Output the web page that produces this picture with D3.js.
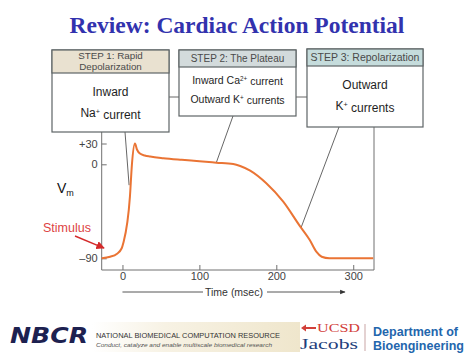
<html>
<head>
<script src="https://d3js.org/d3.v7.min.js"></script>
<style>
    body { margin: 0; background: #fff; }
    text { font-family: "Liberation Sans", Arial, sans-serif; }
    .frame { stroke: #707070; stroke-width: 1; fill: none; }
    .box { fill: #fff; stroke: #5e6466; stroke-width: 1.2; }
    .pointer { stroke: #555; stroke-width: 0.9; }
    .axis text { font-size: 11px; fill: #444; }
    .axis line { stroke: #707070; }
</style>
</head>
<body>
<svg id="chart" width="474" height="355"></svg>
<script>
// action potential trace: time (ms) and membrane potential (mV)
const times = [-27, -16, -7.5, -1, 1, 9.7, 12.3, 16.2, 19, 22.7, 29, 36, 53, 77, 100, 122, 144, 153, 166, 187, 209, 230.5, 243.5, 252, 259, 269, 290, 326];
const volts = [-90, -88.5, -85.9, -80.4, -75.6, -31, 0, 30, 21, 15.5, 12.7, 11.2, 8.8, 6.4, 4.4, 2.4, 0.4, -1.6, -6.1, -18.2, -35.8, -59, -72.5, -83.7, -88.5, -90, -90, -90];

const xTicks = [0, 100, 200, 300];
const yTicks = [30, 0, -90];
const yTickLabels = ["+30", "0", "\u201390"];

// the three steps: header lines, body lines, and the point on the trace each one points to
const stepHeaders = [["STEP 1: Rapid", "Depolarization"], ["STEP 2: The Plateau"], ["STEP 3: Repolarization"]];
const stepBodies = [
    [["Inward"], ["Na", "+", " current"]],
    [["Inward Ca", "2+", " current"], ["Outward K", "+", " currents"]],
    [["Outward"], ["K", "+", " currents"]]
];
const stepTargets = [[8.6, -20], [122, 2.4], [232, -61]];

const svg = d3.select("#chart");

// title
svg.append("text")
    .attr("x", 237).attr("y", 33)
    .attr("text-anchor", "middle")
    .style("font-family", "'Liberation Serif', 'Times New Roman', serif")
    .style("font-weight", "bold")
    .style("font-size", "23.5px")
    .style("fill", "#3232ae")
    .text("Review: Cardiac Action Potential");

// scales (the original figure is not drawn to a single vertical scale)
const x = d3.scaleLinear().domain([-27, 327]).range([101.7, 374]);
const y = d3.scaleLinear().domain([-90, 0, 30]).range([258.3, 164.3, 143.5]);
const axisY = 270;

// frame lines
svg.append("line").attr("class", "frame")
    .attr("x1", x(-27)).attr("x2", x(-27)).attr("y1", 132).attr("y2", axisY);
svg.append("line").attr("class", "frame")
    .attr("x1", x(327)).attr("x2", x(327)).attr("y1", 127).attr("y2", axisY);
svg.append("line").attr("class", "frame")
    .attr("x1", x(-27)).attr("x2", x(327)).attr("y1", axisY).attr("y2", axisY);

// axes
const xAxis = svg.append("g").attr("class", "axis")
    .attr("transform", "translate(0," + axisY + ")")
    .call(d3.axisBottom(x).tickValues(xTicks).tickSizeInner(-5).tickSizeOuter(0).tickPadding(2));
xAxis.select(".domain").remove();

const yAxis = svg.append("g").attr("class", "axis")
    .attr("transform", "translate(" + x(-27) + ",0)")
    .call(d3.axisLeft(y).tickValues(yTicks).tickSizeInner(-5).tickSizeOuter(0).tickPadding(4)
        .tickFormat((d, i) => yTickLabels[i]));
yAxis.select(".domain").remove();

// markers and gradient
svg.append("defs").html(
    '<marker id="arr" viewBox="0 0 10 10" refX="9" refY="5" markerWidth="7" markerHeight="6" orient="auto">' +
    '<path d="M0,1 L10,5 L0,9 z" fill="#333"/></marker>' +
    '<marker id="arrRed" viewBox="0 0 10 10" refX="9" refY="5" markerWidth="6" markerHeight="6" orient="auto">' +
    '<path d="M0,0 L10,5 L0,10 z" fill="#d42a2a"/></marker>' +
    '<linearGradient id="beige" x1="0" x2="1" y1="0" y2="0">' +
    '<stop offset="0" stop-color="#fff"/><stop offset="0.35" stop-color="#f7f2e4"/><stop offset="1" stop-color="#efe6cc"/></linearGradient>');

// time label with arrow
svg.append("line").attr("x1", x(0)).attr("x2", 203).attr("y1", 292).attr("y2", 292)
    .attr("stroke", "#444").attr("stroke-width", 0.9);
svg.append("line").attr("x1", 267).attr("x2", 345).attr("y1", 292).attr("y2", 292)
    .attr("stroke", "#444").attr("stroke-width", 0.9).attr("marker-end", "url(#arr)");
svg.append("text").attr("x", 234).attr("y", 296)
    .attr("text-anchor", "middle").style("font-size", "10.5px").style("fill", "#333")
    .text("Time (msec)");

// Vm label
const vm = svg.append("text").attr("x", 57).attr("y", 193).style("font-size", "14px").style("fill", "#111");
vm.append("tspan").text("V");
vm.append("tspan").attr("dy", 3).style("font-size", "9px").text("m");

// stimulus label and arrow
svg.append("text").attr("x", 43).attr("y", 232)
    .style("font-size", "12.5px").style("fill", "#dd4444").text("Stimulus");
svg.append("line").attr("x1", 75).attr("y1", 236).attr("x2", x(-24)).attr("y2", y(-84) - 4)
    .attr("stroke", "#d42a2a").attr("stroke-width", 1.4).attr("marker-end", "url(#arrRed)");

const boxes = [
    { x: 52, y: 50, w: 117, h: 82, hh: 23, fill: "#e9e1d0", hs: 9.8, bs: 12, hl: [56, 67], bl: [92, 113], px: 125 },
    { x: 179, y: 50, w: 117, h: 66, hh: 17, fill: "#d3dbdc", hs: 10, bs: 10.5, hl: [58.5], bl: [80, 99], px: 233 },
    { x: 307, y: 49, w: 116, h: 78, hh: 17, fill: "#c5dcdc", hs: 10.5, bs: 12, hl: [57.5], bl: [85, 106], px: 339 }
];

// connectors between boxes
svg.append("line").attr("class", "pointer").attr("x1", 169).attr("x2", 179).attr("y1", 97).attr("y2", 97);
svg.append("line").attr("class", "pointer").attr("x1", 296).attr("x2", 307).attr("y1", 97).attr("y2", 97);

// pointer lines from the boxes to the trace
boxes.forEach((b, i) => {
    svg.append("line").attr("class", "pointer")
        .attr("x1", b.px).attr("y1", b.y + b.h)
        .attr("x2", x(stepTargets[i][0])).attr("y2", y(stepTargets[i][1]));
});

// action potential trace
const pts = times.map((t, i) => [t, volts[i]]);
const line = d3.line().x(d => x(d[0])).y(d => y(d[1])).curve(d3.curveMonotoneX);
svg.append("path").datum(pts)
    .attr("d", line)
    .attr("fill", "none")
    .attr("stroke", "#ea7434")
    .attr("stroke-width", 2);

// step boxes
boxes.forEach((b, i) => {
    const g = svg.append("g");
    g.append("rect").attr("class", "box").attr("x", b.x).attr("y", b.y).attr("width", b.w).attr("height", b.h);
    g.append("rect").attr("x", b.x).attr("y", b.y).attr("width", b.w).attr("height", b.hh)
        .attr("fill", b.fill).attr("stroke", "#5e6466").attr("stroke-width", 1.2);
    stepHeaders[i].forEach((t, j) => {
        g.append("text").attr("x", b.x + b.w / 2).attr("y", b.hl[j]).attr("dy", "0.35em")
            .attr("text-anchor", "middle").style("font-size", b.hs + "px").style("fill", "#4a4a4a").text(t);
    });
    stepBodies[i].forEach((parts, j) => {
        const tx = g.append("text").attr("x", b.x + b.w / 2).attr("y", b.bl[j]).attr("dy", "0.35em")
            .attr("text-anchor", "middle").style("font-size", b.bs + "px").style("fill", "#1e1e1e");
        parts.forEach((p, k) => {
            if (k === 1) {
                tx.append("tspan").attr("dy", "-0.4em").style("font-size", (b.bs * 0.6) + "px").text(p);
            } else if (k === 2) {
                tx.append("tspan").attr("dy", "0.4em").text(p);
            } else {
                tx.append("tspan").text(p);
            }
        });
    });
});

// footer logos
svg.append("rect").attr("x", 92).attr("y", 322).attr("width", 208).attr("height", 30).attr("fill", "url(#beige)");
svg.append("text").attr("x", 10).attr("y", 343)
    .attr("textLength", 78).attr("lengthAdjust", "spacingAndGlyphs")
    .style("font-size", "22px").style("font-style", "italic").style("fill", "#1d2150")
    .style("font-family", "'DejaVu Sans', sans-serif").style("font-weight", "bold")
    .text("NBCR");
svg.append("text").attr("x", 96).attr("y", 337.5)
    .attr("textLength", 184).attr("lengthAdjust", "spacingAndGlyphs")
    .style("font-size", "6.8px").style("fill", "#333").text("NATIONAL BIOMEDICAL COMPUTATION RESOURCE");
svg.append("text").attr("x", 96).attr("y", 347)
    .attr("textLength", 176).attr("lengthAdjust", "spacingAndGlyphs")
    .style("font-size", "5.6px").style("font-style", "italic").style("fill", "#555")
    .text("Conduct, catalyze and enable multiscale biomedical research");

// UCSD Jacobs
svg.append("path")
    .attr("d", "M301,328 L306,324.5 L306,327 L316,327 L316,329 L306,329 L306,331.5 Z")
    .attr("fill", "#d2403a");
svg.append("text").attr("x", 317).attr("y", 332)
    .attr("textLength", 43).attr("lengthAdjust", "spacingAndGlyphs")
    .style("font-family", "'Liberation Serif', serif").style("font-size", "12px").style("fill", "#d2403a")
    .text("UCSD");
svg.append("text").attr("x", 300).attr("y", 349)
    .attr("textLength", 58).attr("lengthAdjust", "spacingAndGlyphs")
    .style("font-family", "'Liberation Serif', serif").style("font-size", "15.5px").style("fill", "#1f3f7c")
    .text("Jacobs");
svg.append("line").attr("x1", 365).attr("x2", 365).attr("y1", 324).attr("y2", 351)
    .attr("stroke", "#c9a5a5").attr("stroke-width", 1);
svg.append("text").attr("x", 373).attr("y", 336)
    .attr("textLength", 85).attr("lengthAdjust", "spacingAndGlyphs")
    .style("font-size", "12.5px").style("font-weight", "bold").style("fill", "#2366ad")
    .text("Department of");
svg.append("text").attr("x", 373).attr("y", 350)
    .attr("textLength", 91).attr("lengthAdjust", "spacingAndGlyphs")
    .style("font-size", "12.5px").style("font-weight", "bold").style("fill", "#2366ad")
    .text("Bioengineering");
</script>
</body>
</html>
